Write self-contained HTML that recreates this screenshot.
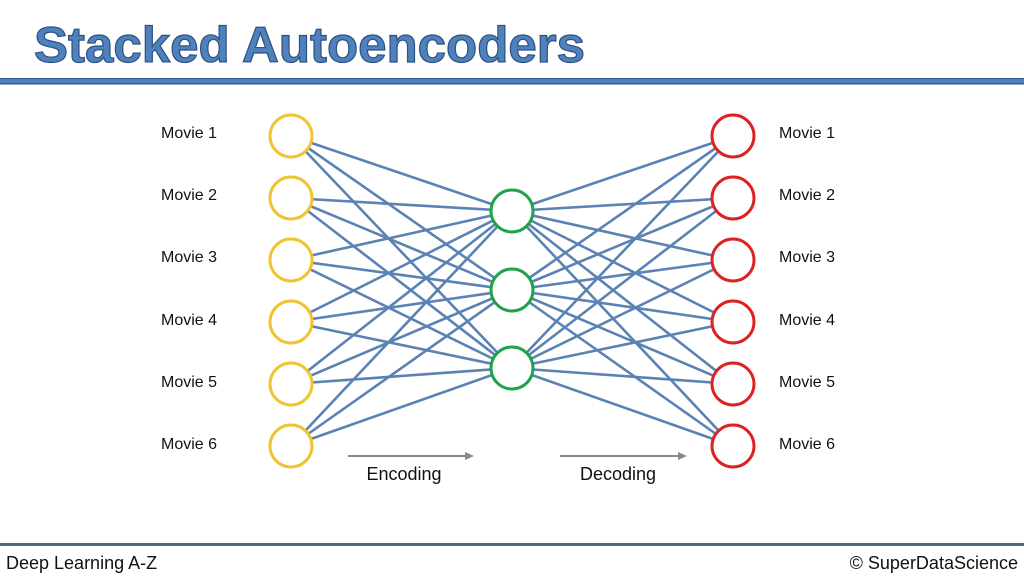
<!DOCTYPE html>
<html><head><style>
body{margin:0;width:1024px;height:576px;background:#fff;overflow:hidden;font-family:"Liberation Sans",Arial,sans-serif}
</style></head><body>
<svg width="1024" height="576" viewBox="0 0 1024 576" xmlns="http://www.w3.org/2000/svg" style="position:absolute;left:0;top:0">
<text x="34" y="62" font-family="Liberation Sans,Arial,sans-serif" font-weight="bold" font-size="50" fill="#4f81bd" stroke="#2c5282" stroke-width="1.2" textLength="551" lengthAdjust="spacingAndGlyphs">Stacked Autoencoders</text>
<rect x="0" y="78" width="1024" height="6" fill="#4f81bd"/>
<rect x="0" y="78" width="1024" height="1" fill="#2f5d8f"/>
<rect x="0" y="83" width="1024" height="1.5" fill="#2f5d8f"/>
<rect x="0" y="543" width="1024" height="3" fill="#4a6a8a"/>
<text x="6" y="569" font-size="18" fill="#111">Deep Learning A-Z</text>
<text x="1018" y="569" font-size="18" fill="#111" text-anchor="end">© SuperDataScience</text>
<g stroke="#5a82b4" stroke-width="2.6" id="lines"></g>
<g font-size="16" fill="#111">
<text x="161" y="138">Movie 1</text><text x="161" y="200">Movie 2</text><text x="161" y="262">Movie 3</text>
<text x="161" y="325">Movie 4</text><text x="161" y="387">Movie 5</text><text x="161" y="449">Movie 6</text>
<text x="779" y="138">Movie 1</text><text x="779" y="200">Movie 2</text><text x="779" y="262">Movie 3</text>
<text x="779" y="325">Movie 4</text><text x="779" y="387">Movie 5</text><text x="779" y="449">Movie 6</text>
</g>
<g stroke="#888" stroke-width="2" fill="#888">
<line x1="348" y1="456" x2="466" y2="456"/><polygon points="474,456 465,452 465,460" stroke="none"/>
<line x1="560" y1="456" x2="679" y2="456"/><polygon points="687,456 678,452 678,460" stroke="none"/>
</g>
<text x="404" y="480" font-size="18" text-anchor="middle" fill="#111">Encoding</text>
<text x="618" y="480" font-size="18" text-anchor="middle" fill="#111">Decoding</text>
<g id="nodes" stroke-width="3" fill="#fff"></g>
</svg>
<script>
var ys=[136,198,260,322,384,446],ms=[211,290,368],L=document.getElementById('lines'),N=document.getElementById('nodes'),ns='http://www.w3.org/2000/svg';
function ln(a,b,c,d){var e=document.createElementNS(ns,'line');e.setAttribute('x1',a);e.setAttribute('y1',b);e.setAttribute('x2',c);e.setAttribute('y2',d);L.appendChild(e);}
function ci(x,y,c){var e=document.createElementNS(ns,'circle');e.setAttribute('cx',x);e.setAttribute('cy',y);e.setAttribute('r',21);e.setAttribute('stroke',c);N.appendChild(e);}
ys.forEach(function(y){ms.forEach(function(m){ln(291,y,512,m);ln(733,y,512,m);});});
ys.forEach(function(y){ci(291,y,'#f0c430');ci(733,y,'#dd2222');});
ms.forEach(function(m){ci(512,m,'#1fa34a');});
</script>
</body></html>
